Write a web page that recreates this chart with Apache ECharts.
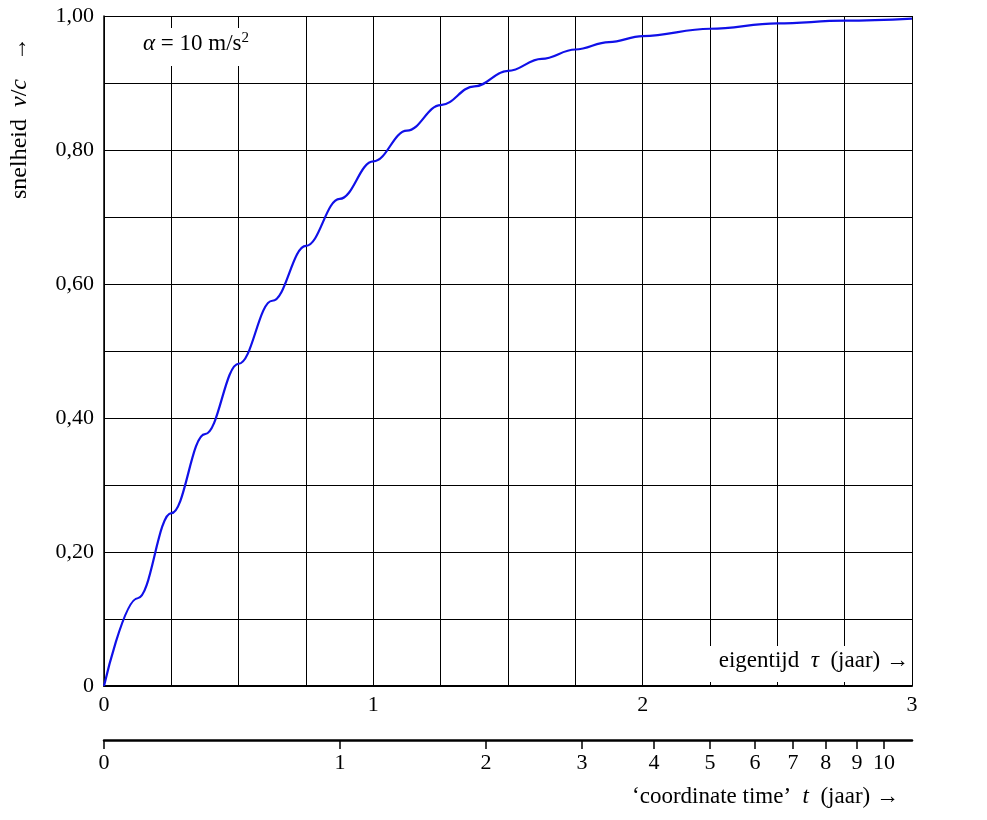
<!DOCTYPE html>
<html><head><meta charset="UTF-8"><title>snelheid</title>
<style>html,body{margin:0;padding:0;background:#fff}#chart{width:987px;height:820px}</style>
</head><body>
<div id="chart"></div>
<script src="https://cdn.jsdelivr.net/npm/echarts@6/dist/echarts.min.js"></script>
<script>
const tauValues = [0, 0.125, 0.25, 0.375, 0.5, 0.625, 0.75, 0.875, 1, 1.125, 1.25, 1.375, 1.5, 1.625, 1.75, 1.875, 2, 2.25, 2.5, 2.75, 3];
const speedValues = [0, 0.131, 0.258, 0.376, 0.481, 0.575, 0.657, 0.727, 0.783, 0.829, 0.867, 0.895, 0.918, 0.936, 0.950, 0.961, 0.970, 0.981, 0.989, 0.993, 0.996];
// coordinate time labels en hun plaats op de tau-as
const coordLabels = ['0', '1', '2', '3', '4', '5', '6', '7', '8', '9', '10'];
const coordTauPos = [0, 0.876, 1.418, 1.775, 2.042, 2.25, 2.417, 2.558, 2.68, 2.796, 2.896];
const yLabels = {0: '0', 0.2: '0,20', 0.4: '0,40', 0.6: '0,60', 0.8: '0,80', 1: '1,00'};

const font = 'Liberation Serif';
const chart = echarts.init(document.getElementById('chart'));
chart.setOption({
  animation: false,
  textStyle: { fontFamily: font },
  grid: [
    { left: 104, right: 75, top: 16, height: 670 },
    { left: 104, right: 75, top: 740, height: 0 }
  ],
  xAxis: [
    {
      gridIndex: 0, type: 'value', min: 0, max: 3, interval: 0.25,
      axisLine: { show: true, lineStyle: { color: '#000', width: 2 } },
      axisTick: { show: true, inside: true, length: 6, lineStyle: { color: '#000' } },
      splitLine: { show: true, lineStyle: { color: '#000', width: 1 } },
      axisLabel: { color: '#000', fontSize: 22, fontFamily: font, margin: 8,
        formatter: v => Number.isInteger(v) ? String(v) : '' }
    },
    {
      gridIndex: 1, type: 'value', min: 0, max: 3,
      axisLine: { show: true, onZero: false, lineStyle: { color: '#000', width: 2.5 } },
      axisTick: { show: true, length: 9, customValues: coordTauPos, lineStyle: { color: '#000', width: 1.5 } },
      splitLine: { show: false },
      axisLabel: { color: '#000', fontSize: 22, fontFamily: font, margin: 12, hideOverlap: false,
        showMinLabel: true, showMaxLabel: true,
        customValues: coordTauPos,
        formatter: v => { const i = coordTauPos.findIndex(p => Math.abs(p - v) < 1e-6); return i >= 0 ? coordLabels[i] : ''; } }
    }
  ],
  yAxis: [
    {
      gridIndex: 0, type: 'value', min: 0, max: 1, interval: 0.1,
      axisLine: { show: true, lineStyle: { color: '#000', width: 1.5 } },
      axisTick: { show: false },
      splitLine: { show: true, lineStyle: { color: '#000', width: 1 } },
      axisLabel: { color: '#000', fontSize: 22, fontFamily: font, margin: 10,
        formatter: v => { const k = Math.round(v * 10) / 10; return yLabels[k] !== undefined ? yLabels[k] : ''; } }
    },
    { gridIndex: 1, type: 'value', show: false, min: 0, max: 1 }
  ],
  series: [{
    type: 'line', xAxisIndex: 0, yAxisIndex: 0, smooth: 0.4, smoothMonotone: 'x', symbol: 'none',
    lineStyle: { color: '#1010e8', width: 2.2 },
    data: tauValues.map((t, i) => [t, speedValues[i]])
  }],
  graphic: [
    { type: 'rect', shape: { x: 644, y: 646, width: 266, height: 36 }, style: { fill: '#fff' }, z: 50 },
    { type: 'text', right: 78, top: 649, z: 51, style: {
      text: 'eigentijd  {i|τ}  (jaar) →', font: '23px "Liberation Serif"', fill: '#000',
      rich: { i: { fontStyle: 'italic', fontSize: 23, fontFamily: font } } } },
    { type: 'rect', shape: { x: 134, y: 28, width: 142, height: 38 }, style: { fill: '#fff' }, z: 50 },
    { type: 'text', left: 143, top: 31, z: 51, style: {
      text: '{i|α} = 10 m/s{s|2}', font: '23px "Liberation Serif"', fill: '#000',
      rich: { i: { fontStyle: 'italic', fontSize: 23, fontFamily: font },
              s: { fontSize: 15, fontFamily: font, verticalAlign: 'top', padding: [0, 0, 10, 0] } } } },
    { type: 'text', right: 88, top: 785, style: {
      text: '‘coordinate time’  {i|t}  (jaar) →', font: '23px "Liberation Serif"', fill: '#000',
      rich: { i: { fontStyle: 'italic', fontSize: 23, fontFamily: font } } } },
    { type: 'text', x: 20, y: 118, rotation: Math.PI / 2, style: {
      text: 'snelheid  {i|v}/{i|c}   →', font: '24px "Liberation Serif"', fill: '#000',
      align: 'center', verticalAlign: 'middle',
      rich: { i: { fontStyle: 'italic', fontSize: 24, fontFamily: font } } } }
  ]
});
</script>
</body></html>
